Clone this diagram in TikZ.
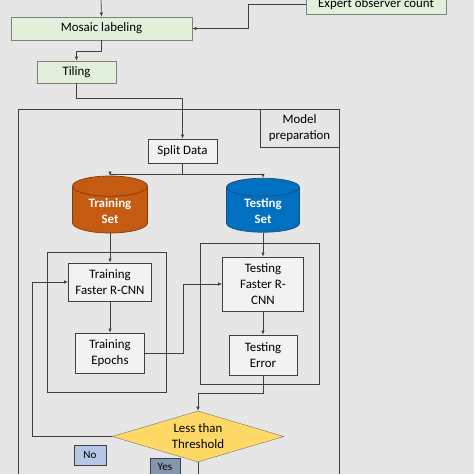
\documentclass[tikz,border=0pt]{standalone}
\usepackage{fontspec}
\setmainfont{Carlito}
\usepackage{xcolor}
\usepackage{tikz}
\usetikzlibrary{shapes.geometric, arrows.meta, calc}

\definecolor{bgGray}{HTML}{E6E6E6}
\definecolor{lineGray}{HTML}{404040}
\definecolor{edgeGray}{HTML}{7F7F7F}
\definecolor{boxGray}{HTML}{F2F2F2}
\definecolor{boxGreen}{HTML}{E2EFDA}
\definecolor{setOrange}{HTML}{C55A11}
\definecolor{setOrangeEdge}{HTML}{843C0C}
\definecolor{setBlue}{HTML}{0070C0}
\definecolor{setBlueEdge}{HTML}{1F4E79}
\definecolor{decYellow}{HTML}{FFD966}
\definecolor{noBlue}{HTML}{B4C7E7}
\definecolor{yesBlue}{HTML}{8497B0}

\begin{document}
\begin{tikzpicture}[
    x=0.03cm, y=-0.03cm,
    font=\fontsize{11}{13.6}\selectfont,
    block/.style={rectangle, draw=lineGray, line width=0.6pt, fill=boxGray, align=center, inner sep=1pt},
    greenblock/.style={block, fill=boxGreen, draw=edgeGray},
    datastore/.style={cylinder, shape border rotate=90, aspect=0.45, draw, line width=0.6pt, align=center, text=white, font=\fontsize{11}{13.6}\selectfont\bfseries, inner sep=1pt},
    decision/.style={diamond, draw=edgeGray, fill=decYellow, aspect=3.4, inner sep=0pt, align=center, minimum width=5.16cm, minimum height=1.53cm},
    tag/.style={rectangle, draw=lineGray, align=center, inner sep=0pt, font=\fontsize{9.5}{11}\selectfont},
    frame/.style={draw=lineGray, line width=0.6pt},
    arrow/.style={-{Latex[length=3.5pt,width=3pt]}, draw=lineGray, line width=0.6pt}
]
\fill[bgGray] (0,0) rectangle (474,474);
\useasboundingbox (0,0) rectangle (474,474);
\clip (0,0) rectangle (474,474);

% Frames
\draw[frame] (18,109) rectangle (339,490);
\draw[frame] (47,252) rectangle (166,392);
\draw[frame] (200,243) rectangle (319,384);

% Labeling stage
\node[greenblock, minimum width=4.2cm, minimum height=0.6cm] (expert) at (376,4.5) {Expert observer count};
\node[greenblock, minimum width=5.43cm, minimum height=0.69cm] (mosaic) at (101.5,28.5) {Mosaic labeling};
\node[greenblock, minimum width=2.37cm, minimum height=0.66cm] (tiling) at (76.5,72) {Tiling};
\coordinate (input) at (101,-2);

% Model preparation
\node[block, fill=bgGray, minimum width=2.37cm, minimum height=1.14cm] (modelprep) at (299.5,128) {Model\\preparation};
\node[block, minimum width=2.07cm, minimum height=0.72cm] (split) at (182.5,151) {Split Data};

% Data sets
\node[datastore, fill=setOrange, draw=setOrangeEdge, minimum width=2.25cm, minimum height=1.71cm] (trainset) at (110,211) {Training\\Set};
\node[datastore, fill=setBlue, draw=setBlueEdge, minimum width=2.19cm, minimum height=1.62cm] (testset) at (263,211) {Testing\\Set};

% Training branch
\node[block, minimum width=2.49cm, minimum height=1.14cm] (trainfaster) at (110,282) {Training\\Faster R-CNN};
\node[block, minimum width=2.07cm, minimum height=1.2cm] (epochs) at (110,353) {Training\\Epochs};

% Testing branch
\node[block, minimum width=2.43cm, minimum height=1.62cm] (testfaster) at (263,284) {Testing\\Faster R-\\CNN};
\node[block, minimum width=2.04cm, minimum height=1.2cm] (testerror) at (263,355) {Testing\\Error};

% Decision
\node[decision] (threshold) at (198,436.5) {Less than\\Threshold};
\node[tag, fill=noBlue, minimum width=0.96cm, minimum height=0.6cm] (no) at (90,455) {No};
\node[tag, fill=yesBlue, minimum width=0.9cm, minimum height=0.54cm] (yes) at (165,467) {Yes};
\coordinate (output) at (198,480);

% Arrows
\draw[arrow] (input) -- (mosaic.north);
\draw[arrow] (expert.west) -- ++(-57,0) |- (mosaic.east);
\draw[arrow] (mosaic.south) -- ++(0,11) -| (tiling.north);
\draw[arrow] (tiling.south) -- ++(0,15) -| (split.north);
\draw[arrow] (split.south) -- ++(0,11) -| (trainset.north);
\draw[arrow] (split.south) -- ++(0,11) -| (testset.north);
\draw[arrow] (trainset.south) -- (trainfaster.north);
\draw[arrow] (testset.south) -- (testfaster.north);
\draw[arrow] (trainfaster.south) -- (epochs.north);
\draw[arrow] (epochs.east) -- ++(38,0) |- (testfaster.west);
\draw[arrow] (testfaster.south) -- (testerror.north);
\draw[arrow] (testerror.south) -- ++(0,18) -| (threshold.north);
\draw[arrow] (threshold.west) -- ++(-79,0) |- (trainfaster.west);
\draw[line width=0.6pt, draw=lineGray] (threshold.south) -- (output);

\end{tikzpicture}
\end{document}
